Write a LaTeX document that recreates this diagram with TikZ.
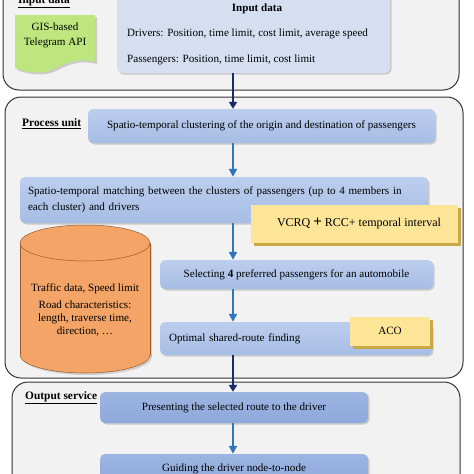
\documentclass[tikz,border=0pt]{standalone}
\usepackage{fontspec}
\setmainfont{Liberation Serif}
\usetikzlibrary{arrows.meta,shadows,calc}
\definecolor{panelfill}{HTML}{F2F2F2}
\definecolor{paneldraw}{HTML}{333333}
\definecolor{boxblue}{HTML}{A6BDE4}
\definecolor{boxbluetop}{HTML}{BCCEEE}
\definecolor{inblue}{HTML}{D5DFF1}
\definecolor{outblue}{HTML}{8DA8DB}
\definecolor{outbluetop}{HTML}{9DB5E2}
\definecolor{yface}{HTML}{FCE596}
\definecolor{yedge}{HTML}{C9A845}
\definecolor{gfill}{HTML}{BDE77E}
\definecolor{ofill}{HTML}{F4A466}
\definecolor{odraw}{HTML}{9A5A2A}
\definecolor{navy}{HTML}{1A2A6A}
\definecolor{midblue}{HTML}{2F76BA}
\newcommand{\fsz}{\fontsize{11.1}{13}\selectfont}
\tikzset{
  panel/.style={draw=paneldraw, fill=panelfill, rounded corners=16pt, line width=1pt},
  bbox/.style={rounded corners=5pt, inner sep=0pt, font=\fsz,
     drop shadow={shadow xshift=1.5pt, shadow yshift=-1.5pt, opacity=0.35}},
  probox/.style={bbox, top color=boxbluetop, bottom color=boxblue},
  outbox/.style={bbox, top color=outbluetop, bottom color=outblue},
  ybox/.style={fill=yface, inner sep=0pt, font=\fsz,
     drop shadow={shadow xshift=3pt, shadow yshift=-3pt, fill=yedge, opacity=1}},
  plabel/.style={font=\fontsize{11.4}{13}\selectfont\bfseries, inner sep=0pt},
  navyarrow/.style={draw=navy, line width=2.6pt, -{Triangle[length=7pt,width=8pt]}},
  bluearrow/.style={draw=midblue, line width=2.4pt, -{Triangle[length=8pt,width=8pt]}},
  txt/.style={font=\fsz, inner sep=0pt}
}
\begin{document}
\begin{tikzpicture}[x=1pt,y=-1pt]
\useasboundingbox (0,0) rectangle (474,474);
\clip (0,0) rectangle (474,474);
\fill[white] (0,0) rectangle (474,474);
% panels
\draw[panel] (3,-25) rectangle (459,90);
\draw[panel] (5,97) rectangle (463,378);
\draw[panel] (12,382) rectangle (460,520);
% axis coordinate for the central arrows
\coordinate (ax) at (233,0);
% ---- input data
\node[plabel, anchor=base west] (lin) at (18,3) {\underline{Input data}};
\fill[gray, opacity=0.35] (17,17) -- (97,17) -- (97,64) .. controls (80,60) and (70,64) .. (58,70) .. controls (45,77) and (30,75) .. (17,70) -- cycle;
\fill[gfill] (15,15) -- (95,15) -- (95,62) .. controls (78,58) and (68,62) .. (56,68) .. controls (43,75) and (28,73) .. (15,68) -- cycle;
\node[txt, align=center] (gis) at (55,35) {GIS-based\\[2pt]Telegram API};
\node[bbox, fill=inblue, minimum width=273pt, minimum height=82pt] (inp) at (253.5,32) {};
\node[txt, font=\fsz\bfseries] (inpt) at (257,9) {Input data};
\node[txt, anchor=west] (drv) at (127,34) {Drivers: Position, time limit, cost limit, average speed};
\node[txt, anchor=west] (pas) at (127,60) {Passengers: Position, time limit, cost limit};
% ---- process unit
\node[plabel, anchor=west] (lpu) at (22,124) {\underline{Process unit}};
\node[probox, minimum width=347pt, minimum height=34pt] (b1) at (261.5,126)
  {Spatio-temporal clustering of the origin and destination of passengers};
\node[probox, minimum width=408pt, minimum height=46pt, text width=392pt, align=left] (b2) at (224,200)
  {\baselineskip=16pt Spatio-temporal matching between the clusters of passengers (up to 4 members in\\each cluster) and drivers\par};
\node[ybox, minimum width=207pt, minimum height=38pt, font=\fontsize{12}{14}\selectfont] (y1) at (354,224)
  {\hspace*{10pt}VCRQ {\fontsize{15}{15}\selectfont\bfseries +} RCC+ temporal interval};
% cylinder
\coordinate (ctop) at (85,243);
\coordinate (cbot) at (85,355);
\fill[gray, opacity=0.3] (22,245) rectangle (152,357);
\fill[gray, opacity=0.3] (87,357) ellipse [x radius=65, y radius=18];
\fill[ofill] (20,243) rectangle (150,355);
\fill[ofill] (cbot) ellipse [x radius=65, y radius=18];
\begin{scope}
\clip (10,355) rectangle (160,380);
\draw[odraw, line width=0.5pt] (cbot) ellipse [x radius=65, y radius=18];
\end{scope}
\draw[odraw, line width=0.5pt] (20,243) -- (20,355) (150,243) -- (150,355);
\draw[odraw, line width=0.5pt, fill=ofill] (ctop) ellipse [x radius=65, y radius=18];
\node[txt, align=center] (db) at (85,310)
  {Traffic data, Speed limit\\[4pt]Road characteristics:\\length, traverse time,\\direction, \dots};
\node[probox, minimum width=273pt, minimum height=29pt] (b3) at (296.5,274.5)
  {Selecting \textbf{4} preferred passengers for an automobile};
\node[probox, minimum width=272pt, minimum height=33pt, text width=254pt, align=left] (b4) at (296,338.5)
  {Optimal shared-route finding};
\node[ybox, minimum width=80pt, minimum height=29pt] (aco) at (390,331) {ACO};
% ---- output service
\node[plabel, anchor=west] (los) at (25,398) {\underline{Output service}};
\node[outbox, minimum width=268pt, minimum height=31pt] (b5) at (234,407.5)
  {Presenting the selected route to the driver};
\node[outbox, minimum width=268pt, minimum height=30pt] (b6) at (234,469)
  {Guiding the driver node-to-node};
% ---- arrows
\draw[navyarrow] (inp.south -| ax) -- (b1.north -| ax);
\draw[bluearrow] (b1.south -| ax) -- (b2.north -| ax);
\draw[bluearrow] (b2.south -| ax) -- (b3.north -| ax);
\draw[bluearrow] (b3.south -| ax) -- (b4.north -| ax);
\draw[navyarrow] (b4.south -| ax) -- (b5.north -| ax);
\draw[bluearrow] (b5.south -| ax) -- (b6.north -| ax);
\end{tikzpicture}
\end{document}
